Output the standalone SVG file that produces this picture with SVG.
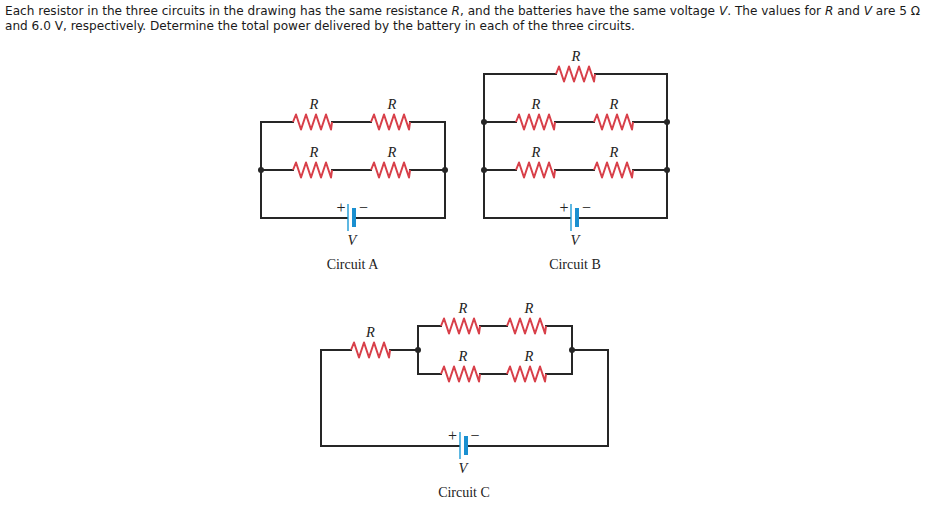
<svg xmlns="http://www.w3.org/2000/svg" xmlns:xlink="http://www.w3.org/1999/xlink" width="934" height="505" viewBox="0 0 934 505">
<style>
.q{font:12.1px "DejaVu Sans",Verdana,sans-serif;fill:#1a1a1a}
.i{font-style:italic}
.w{fill:none;stroke:#262626;stroke-width:2;stroke-linecap:square}
.r{fill:none;stroke:#d8404a;stroke-width:2;stroke-linejoin:round}
.l{font:italic 14.500px "Liberation Serif",serif;fill:#222;text-anchor:middle}
.c{font:14px "Liberation Serif",serif;fill:#222;text-anchor:middle}
.s{font:16px "Liberation Serif",serif;fill:#222;text-anchor:middle}
.t{stroke:#1a9ad6;stroke-width:1.4;fill:none}
.k{fill:#1a8fd0}
.d{fill:#262626}
</style>
<defs>
<path id="res" class="r" d="M0 0L3-7.500 8 7.500 13-7.500 18 7.500 23-7.500 28 7.500 33-7.500 38 7.500 39 0"/>
<g id="bat"><path class="t" d="M0-14V13"/><rect class="k" x="4" y="-10" width="4" height="19"/></g>
</defs>
<rect width="934" height="505" fill="#fff"/>
<g id="question">
<text class="q" x="5" y="15">Each resistor in the three circuits in the drawing has the same resistance <tspan class="i">R</tspan>, and the batteries have the same voltage <tspan class="i">V</tspan>. The values for <tspan class="i">R</tspan> and <tspan class="i">V</tspan> are 5 Ω</text>
<text class="q" x="5" y="30">and 6.0 V, respectively. Determine the total power delivered by the battery in each of the three circuits.</text>
</g>
<g id="connectors">
<path class="w" d="M293 122H261V218H347M332 122H371M410 122H445V218H357M261 170H293M332 170H371M410 170H445"/>
<path class="w" d="M556 74H484V218H570M595 74H667V218H580M484 122H516M555 122H594M633 122H667M484 170H516M555 170H594M633 170H667"/>
<path class="w" d="M351 350H321V446H459M390 350H418M441 326H418V374H441M480 326H507M546 326H572V374H546M480 374H507M572 350H608V446H468"/>
</g>
<g id="circuit-a">
<use xlink:href="#res" x="293" y="122"/><use xlink:href="#res" x="371" y="122"/><use xlink:href="#res" x="293" y="170"/><use xlink:href="#res" x="371" y="170"/>
<circle class="d" cx="261" cy="170" r="3"/><circle class="d" cx="445" cy="170" r="3"/>
<use xlink:href="#bat" x="348" y="218"/>
<text class="l" x="314" y="109">R</text><text class="l" x="392" y="109">R</text><text class="l" x="314" y="157">R</text><text class="l" x="392" y="157">R</text>
<text class="s" x="341" y="213">+</text><text class="s" x="363.500" y="213">−</text>
<text class="l" x="352" y="245">V</text><text class="c" x="352.500" y="269">Circuit A</text>
</g>
<g id="circuit-b">
<use xlink:href="#res" x="556" y="74"/><use xlink:href="#res" x="516" y="122"/><use xlink:href="#res" x="594" y="122"/><use xlink:href="#res" x="516" y="170"/><use xlink:href="#res" x="594" y="170"/>
<circle class="d" cx="484" cy="122" r="3"/><circle class="d" cx="667" cy="122" r="3"/><circle class="d" cx="484" cy="170" r="3"/><circle class="d" cx="667" cy="170" r="3"/>
<use xlink:href="#bat" x="571" y="218"/>
<text class="l" x="576" y="61">R</text><text class="l" x="536" y="109">R</text><text class="l" x="614" y="109">R</text><text class="l" x="536" y="157">R</text><text class="l" x="614" y="157">R</text>
<text class="s" x="564" y="213">+</text><text class="s" x="586.500" y="213">−</text>
<text class="l" x="575" y="245">V</text><text class="c" x="575" y="269">Circuit B</text>
</g>
<g id="circuit-c">
<use xlink:href="#res" x="351" y="350"/><use xlink:href="#res" x="441" y="326"/><use xlink:href="#res" x="507" y="326"/><use xlink:href="#res" x="441" y="374"/><use xlink:href="#res" x="507" y="374"/>
<circle class="d" cx="418" cy="350" r="3"/><circle class="d" cx="572" cy="350" r="3"/>
<use xlink:href="#bat" x="460" y="446"/>
<text class="l" x="370.500" y="337">R</text><text class="l" x="463" y="313">R</text><text class="l" x="529" y="313">R</text><text class="l" x="463" y="361">R</text><text class="l" x="529" y="361">R</text>
<text class="s" x="452.500" y="441">+</text><text class="s" x="475" y="441">−</text>
<text class="l" x="463" y="473">V</text><text class="c" x="464" y="497">Circuit C</text>
</g>
</svg>
